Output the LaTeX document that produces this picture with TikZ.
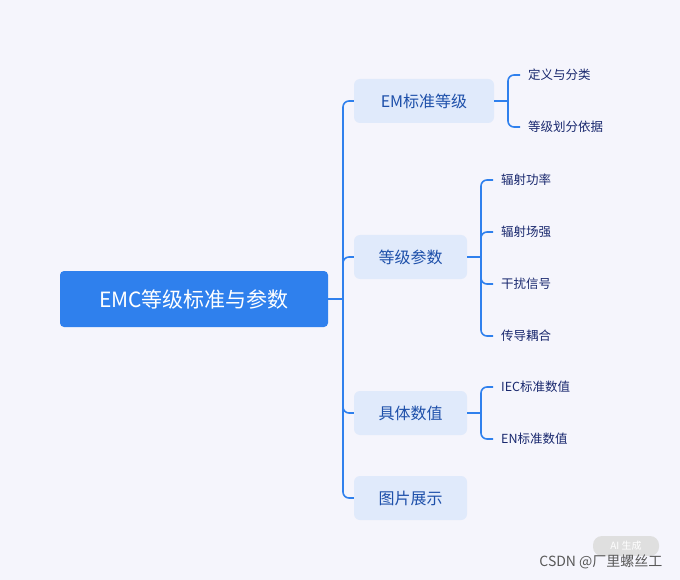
\documentclass[tikz,border=0pt]{standalone}
\usepackage{fontspec}
\setmainfont{Noto Sans CJK SC}
\definecolor{bg}{RGB}{245,245,252}
\definecolor{blu}{RGB}{47,128,237}
\definecolor{l1f}{RGB}{224,234,251}
\definecolor{l1t}{RGB}{30,80,170}
\definecolor{lft}{RGB}{25,40,110}
\begin{document}
\begin{tikzpicture}[x=1pt,y=-1pt,
  conn/.style={draw=blu, line width=1.6pt, rounded corners=6pt},
  root/.style={fill=blu, text=white, rounded corners=4pt, minimum width=268pt, minimum height=56pt, font=\fontsize{21}{24}\selectfont},
  l1/.style={fill=l1f, text=l1t, rounded corners=6pt, minimum height=44pt, font=\fontsize{16}{19}\selectfont},
  leaf/.style={anchor=west, text=lft, inner sep=0pt, font=\fontsize{12.5}{15}\selectfont}]
\fill[bg] (0,0) rectangle (680,580);
\useasboundingbox (0,0) rectangle (680,580);
\node[root] (r) at (194,299) {EMC等级标准与参数};
\node[l1, minimum width=140pt] (a) at (424,101) {EM标准等级};
\node[l1, minimum width=113pt] (b) at (410.5,257) {等级参数};
\node[l1, minimum width=113pt] (c) at (410.5,413) {具体数值};
\node[l1, minimum width=113pt] (d) at (410.5,498) {图片展示};
\node[leaf] (a1) at (528,75) {定义与分类};
\node[leaf] (a2) at (528,127) {等级划分依据};
\node[leaf] (b1) at (501,180) {辐射功率};
\node[leaf] (b2) at (501,232) {辐射场强};
\node[leaf] (b3) at (501,284) {干扰信号};
\node[leaf] (b4) at (501,336) {传导耦合};
\node[leaf] (c1) at (501,387) {IEC标准数值};
\node[leaf] (c2) at (501,439) {EN标准数值};
\coordinate (t) at (343,299);
\coordinate (ta) at (508,101);
\coordinate (tb) at (481,257);
\coordinate (tc) at (481,413);
\draw[conn] (r.east) -- (t);
\foreach \n in {a,b,c,d} \draw[conn] (t) |- (\n.west);
\draw[conn] (a.east) -- (ta);
\foreach \n in {a1,a2} \draw[conn] (ta) |- ([xshift=-8pt]\n.west);
\draw[conn] (b.east) -- (tb);
\foreach \n in {b1,b2,b3,b4} \draw[conn] (tb) |- ([xshift=-8pt]\n.west);
\draw[conn] (c.east) -- (tc);
\foreach \n in {c1,c2} \draw[conn] (tc) |- ([xshift=-8pt]\n.west);
\node[fill=gray!25, rounded corners=9pt, text=white, minimum width=66pt, minimum height=20pt, font=\fontsize{10}{12}\selectfont] (ai) at (626,546) {AI 生成};
\node[text=gray!70!black, font=\fontsize{14}{16}\selectfont, anchor=east] (wm) at (666,562) {CSDN @厂里螺丝工};
\end{tikzpicture}
\end{document}
